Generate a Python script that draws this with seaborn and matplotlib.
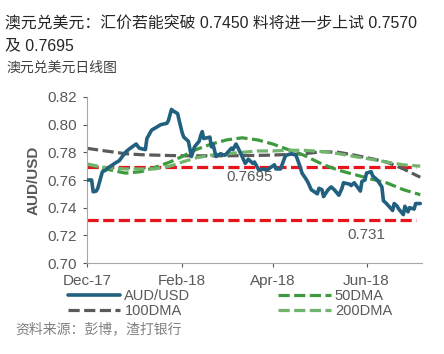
import seaborn as sns
import matplotlib.pyplot as plt
import matplotlib.dates as mdates
import pandas as pd

# AUD/USD daily close
spot_dates = ['2017-12-01', '2017-12-04', '2017-12-05', '2017-12-07', '2017-12-08', '2017-12-11',
              '2017-12-13', '2017-12-15', '2017-12-19', '2017-12-22', '2017-12-26', '2017-12-28',
              '2018-01-02', '2018-01-04', '2018-01-08', '2018-01-09', '2018-01-12', '2018-01-15',
              '2018-01-18', '2018-01-22', '2018-01-23', '2018-01-25', '2018-01-26', '2018-01-29',
              '2018-01-30', '2018-02-01', '2018-02-02', '2018-02-05', '2018-02-07', '2018-02-09',
              '2018-02-12', '2018-02-13', '2018-02-14', '2018-02-15', '2018-02-19', '2018-02-20',
              '2018-02-21', '2018-02-23', '2018-02-26', '2018-02-28', '2018-03-01', '2018-03-05',
              '2018-03-06', '2018-03-08', '2018-03-09', '2018-03-12', '2018-03-14', '2018-03-16',
              '2018-03-19', '2018-03-20', '2018-03-23', '2018-03-26', '2018-03-28', '2018-04-02',
              '2018-04-03', '2018-04-06', '2018-04-09', '2018-04-10', '2018-04-13', '2018-04-16',
              '2018-04-18', '2018-04-20', '2018-04-23', '2018-04-24', '2018-04-26', '2018-04-30',
              '2018-05-01', '2018-05-03', '2018-05-04', '2018-05-07', '2018-05-09', '2018-05-11',
              '2018-05-14', '2018-05-16', '2018-05-17', '2018-05-21', '2018-05-22', '2018-05-24',
              '2018-05-28', '2018-05-29', '2018-05-31', '2018-06-01', '2018-06-04', '2018-06-05',
              '2018-06-08', '2018-06-11', '2018-06-12', '2018-06-14', '2018-06-18', '2018-06-19',
              '2018-06-21', '2018-06-22', '2018-06-25', '2018-06-26', '2018-06-28', '2018-06-29',
              '2018-07-02', '2018-07-03', '2018-07-06']
spot = [0.760, 0.760, 0.7515, 0.752, 0.754, 0.766,
        0.767, 0.769, 0.772, 0.774, 0.780, 0.782,
        0.786, 0.783, 0.782, 0.790, 0.796, 0.798,
        0.800, 0.801, 0.803, 0.811, 0.810, 0.808,
        0.803, 0.794, 0.791, 0.788, 0.777, 0.784,
        0.788, 0.792, 0.795, 0.790, 0.791, 0.784,
        0.786, 0.777, 0.779, 0.778, 0.778, 0.783,
        0.782, 0.786, 0.784, 0.777, 0.772, 0.775,
        0.772, 0.773, 0.767, 0.768, 0.767, 0.771,
        0.768, 0.768, 0.777, 0.778, 0.779, 0.778,
        0.772, 0.765, 0.760, 0.758, 0.753, 0.750,
        0.754, 0.753, 0.748, 0.753, 0.755, 0.753,
        0.749, 0.754, 0.758, 0.757, 0.756, 0.758,
        0.752, 0.759, 0.760, 0.765, 0.766, 0.763,
        0.760, 0.755, 0.745, 0.743, 0.738, 0.743,
        0.741, 0.739, 0.735, 0.741, 0.737, 0.740,
        0.739, 0.743, 0.743]

# moving averages
ma_dates = ['2017-12-01', '2017-12-13', '2017-12-26', '2018-01-05', '2018-01-14', '2018-01-24',
            '2018-02-01', '2018-02-10', '2018-02-20', '2018-03-02', '2018-03-12', '2018-03-22',
            '2018-04-01', '2018-04-11', '2018-04-21', '2018-05-04', '2018-05-14', '2018-05-24',
            '2018-06-04', '2018-06-14', '2018-06-25', '2018-07-06']
dma50 = [0.7715, 0.768, 0.765, 0.766, 0.769, 0.773,
         0.777, 0.782, 0.786, 0.789, 0.7905, 0.789,
         0.786, 0.782, 0.778, 0.771, 0.767, 0.764,
         0.7607, 0.758, 0.753, 0.7494]
dma100 = [0.7829, 0.781, 0.779, 0.7783, 0.778, 0.7777,
          0.7775, 0.7775, 0.7775, 0.7775, 0.7776, 0.7778,
          0.778, 0.7785, 0.779, 0.7805, 0.780, 0.778,
          0.7755, 0.773, 0.768, 0.762]
dma200 = [0.7715, 0.769, 0.768, 0.768, 0.768, 0.770,
          0.773, 0.776, 0.778, 0.779, 0.780, 0.781,
          0.781, 0.7815, 0.7815, 0.7805, 0.779, 0.777,
          0.775, 0.773, 0.771, 0.770]

resistance = 0.7695
support = 0.731

spot_df = pd.DataFrame({'date': pd.to_datetime(spot_dates), 'v': spot})
ma_df = pd.DataFrame({'date': pd.to_datetime(ma_dates), 'd50': dma50, 'd100': dma100, 'd200': dma200})

sns.set_style('ticks')
plt.rcParams['font.family'] = ['Liberation Sans', 'Noto Sans CJK SC', 'DejaVu Sans']

grey = '#595959'
fig = plt.figure(figsize=(4.44, 3.54), dpi=100)
ax = fig.add_axes([0.196, 0.257, 0.754, 0.469])

lw = 2.3
dash = (0, (3.5, 1.4))
x0, x1 = spot_df['date'].iloc[0], pd.Timestamp('2018-07-03')
ax.hlines([resistance, support], x0, x1, colors='#e8141c', linestyles=[dash], lw=lw, zorder=1)

sns.lineplot(data=ma_df, x='date', y='d100', ax=ax, color='#5a5a5a', lw=lw,
             linestyle=dash, label='100DMA', zorder=2)
sns.lineplot(data=ma_df, x='date', y='d50', ax=ax, color='#3e9a3e', lw=lw,
             linestyle=dash, label='50DMA', zorder=2)
sns.lineplot(data=ma_df, x='date', y='d200', ax=ax, color='#71b46e', lw=lw,
             linestyle=dash, label='200DMA', zorder=2)
sns.lineplot(data=spot_df, x='date', y='v', ax=ax, color='#22607f', lw=2.6,
             label='AUD/USD', zorder=3)

ax.text(pd.Timestamp('2018-03-17'), 0.7625, '0.7695', color=grey, fontsize=11, ha='center', va='center')
ax.text(pd.Timestamp('2018-06-01'), 0.7205, '0.731', color=grey, fontsize=11, ha='center', va='center')

ax.set_ylim(0.70, 0.82)
ax.set_yticks([0.70, 0.72, 0.74, 0.76, 0.78, 0.80, 0.82])
ax.set_yticklabels([f'{t:.2f}' for t in ax.get_yticks()])
ax.set_xlim(pd.Timestamp('2017-12-01'), pd.Timestamp('2018-07-07'))
ax.xaxis.set_major_locator(mdates.MonthLocator(bymonth=[12, 2, 4, 6]))
ax.xaxis.set_major_formatter(mdates.DateFormatter('%b-%y'))
ax.set_xlabel('')
ax.set_ylabel('AUD/USD', color=grey, fontsize=11, fontweight='bold', labelpad=5)
ax.tick_params(colors=grey, labelsize=11, length=3, width=0.8)
ax.tick_params(axis='x', pad=5)
ax.tick_params(axis='y', pad=4)
for s in ['left', 'bottom']:
    ax.spines[s].set_color('#a6a6a6')
sns.despine(ax=ax)

h, l = ax.get_legend_handles_labels()
order = [l.index(n) for n in ['AUD/USD', '100DMA', '50DMA', '200DMA']]
leg = ax.legend([h[i] for i in order], [l[i] for i in order], ncol=2, frameon=False,
                loc='upper left', bbox_to_anchor=(-0.067, -0.14), handlelength=3.6,
                columnspacing=6.0, labelspacing=0.05, handletextpad=0.3, fontsize=10.5,
                borderaxespad=0, borderpad=0.2)
for t in leg.get_texts():
    t.set_color(grey)

fig.text(0.011, 0.955, '澳元兑美元：汇价若能突破 0.7450 料将进一步上试 0.7570\n及 0.7695',
         fontsize=11.4, color='#262626', va='top', linespacing=1.55)
fig.text(0.014, 0.81, '澳元兑美元日线图', fontsize=10, color='#404040', va='center')
fig.text(0.034, 0.071, '资料来源：彭博，渣打银行', fontsize=10, color='#808080', va='center')

plt.savefig('out.png', dpi=100)
